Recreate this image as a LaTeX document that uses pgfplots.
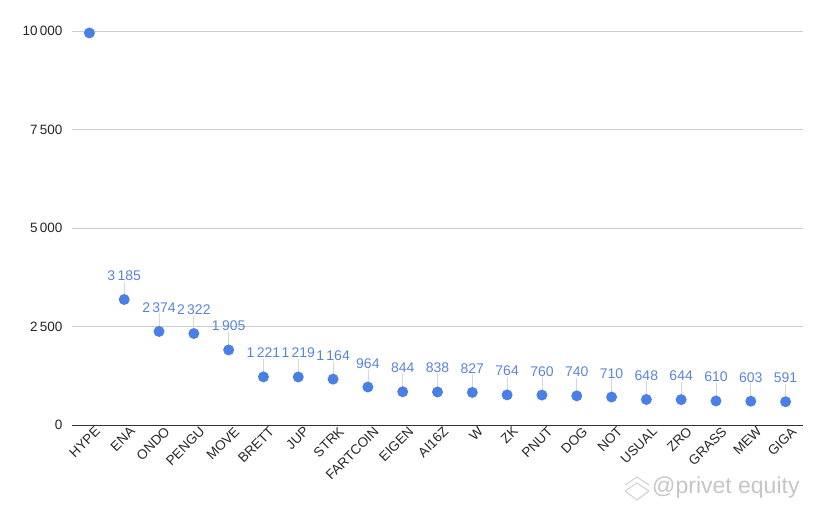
\documentclass[border=0pt]{standalone}
\usepackage{pgfplots}
\pgfplotsset{compat=1.18}
\usepackage{fontspec}
\setmainfont{Liberation Sans}
\definecolor{dotblue}{RGB}{74,128,230}
\definecolor{lblblue}{RGB}{90,133,214}
\definecolor{leader}{RGB}{215,215,215}
\definecolor{gridc}{RGB}{204,204,204}
\pgfdeclareplotmark{leaderdot}{%
  \pgfsetlinewidth{0.7pt}\pgfsetstrokecolor{leader}%
  \pgfpathmoveto{\pgfpoint{0pt}{5pt}}\pgfpathlineto{\pgfpoint{0pt}{18pt}}\pgfusepathqstroke
  \pgfsetfillcolor{dotblue}%
  \pgfpathcircle{\pgfpointorigin}{\pgfplotmarksize}\pgfusepathqfill}
\pgfdeclareplotmark{plaindot}{%
  \pgfsetfillcolor{dotblue}%
  \pgfpathcircle{\pgfpointorigin}{\pgfplotmarksize}\pgfusepathqfill}
\begin{document}
\begin{tikzpicture}
\useasboundingbox (0,0) rectangle (829pt,509pt);
\begin{axis}[
  at={(72pt,84pt)}, anchor=south west,
  scale only axis, width=731pt, height=394pt,
  clip=false,
  xmin=-0.5, xmax=20.5, ymin=0, ymax=10000,
  xtick={0,...,20},
  xticklabels={HYPE,ENA,ONDO,PENGU,MOVE,BRETT,JUP,STRK,FARTCOIN,EIGEN,AI16Z,W,ZK,PNUT,DOG,NOT,USUAL,ZRO,GRASS,MEW,GIGA},
  ytick={0,2500,5000,7500,10000},
  scaled y ticks=false,
  /pgf/number format/.cd, 1000 sep={\,}, fixed, precision=0, assume math mode=true,
  /pgfplots/.cd,
  axis x line*=bottom, axis y line*=left,
  x axis line style={draw=black!80, line width=1pt, -},
  y axis line style={draw=none},
  major tick length=0pt,
  ymajorgrids, grid style={gridc, line width=0.8pt},
  ticklabel style={font=\fontsize{13.5}{15}\selectfont, text=black!85},
  xticklabel style={rotate=45, anchor=north east, inner sep=2pt, xshift=5pt, yshift=-2pt},
  yticklabel style={anchor=east, xshift=-6pt},
  yticklabels={0,2\,500,5\,000,7\,500,10\,000},
]
\addplot[only marks, mark=plaindot, mark size=5.5pt] coordinates {(0,9950)};
\addplot[only marks, mark=leaderdot, mark size=5.5pt,
  nodes near coords,
  every node near coord/.append style={font=\fontsize{14}{16}\selectfont, text=lblblue, anchor=base, yshift=19pt, inner sep=0pt},
  nodes near coords align={center}]
coordinates {
(1,3185) (2,2374) (3,2322) (4,1905) (5,1221) (6,1219) (7,1164) (8,964)
(9,844) (10,838) (11,827) (12,764) (13,760) (14,740) (15,710) (16,648)
(17,644) (18,610) (19,603) (20,591)};
\end{axis}
\draw[gray!35, line width=1pt] (625pt,24pt) -- (637pt,32pt) -- (649pt,24pt);
\draw[gray!35, line width=1pt] (625pt,18pt) -- (637pt,26pt) -- (649pt,18pt);
\draw[gray!35, line width=1pt] (625pt,18pt) -- (637pt,9pt) -- (649pt,18pt);
\node[anchor=west, text=gray!45, font=\fontsize{23}{26}\selectfont, inner sep=0pt] at (652pt,21pt) {@privet equity};
\end{tikzpicture}
\end{document}
